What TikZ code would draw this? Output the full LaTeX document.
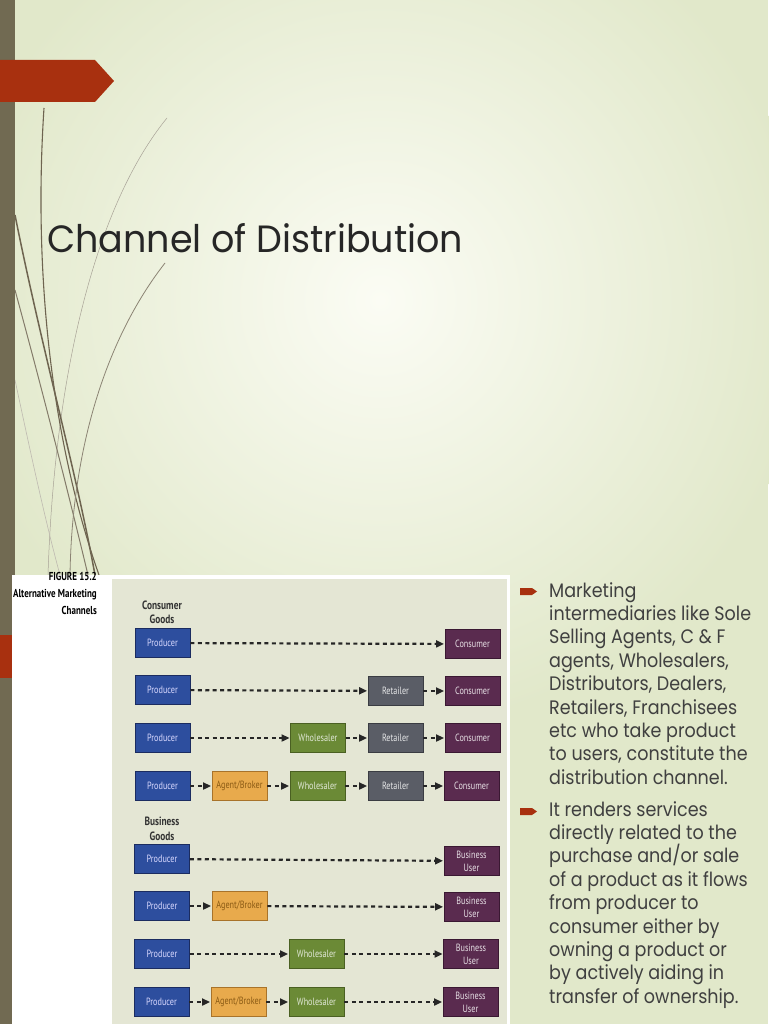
\documentclass[tikz,border=0pt]{standalone}
\usepackage{fontspec}
\setmainfont{Poppins}
\newfontfamily\titlefont{Poppins}[FakeStretch=0.96]
\newfontfamily\bodyfont{Poppins}[FakeStretch=0.9]
\newfontfamily\condfont{PT Sans}[FakeStretch=0.78]
\usetikzlibrary{arrows.meta,shapes.geometric}
\definecolor{bgbase}{HTML}{E1E8CA}
\definecolor{bglight}{HTML}{FBFCF4}
\definecolor{barbrown}{HTML}{716A52}
\definecolor{accentred}{HTML}{A8300F}
\definecolor{panelc}{HTML}{E4E6D4}
\definecolor{prodblue}{HTML}{2D4E9E}
\definecolor{prodborder}{HTML}{1B2C60}
\definecolor{consp}{HTML}{5A2B4F}
\definecolor{consborder}{HTML}{3A1832}
\definecolor{retg}{HTML}{5A5D66}
\definecolor{retborder}{HTML}{3A3C42}
\definecolor{wholeg}{HTML}{6B8A36}
\definecolor{wholeborder}{HTML}{4A6022}
\definecolor{agento}{HTML}{E8AA4C}
\definecolor{agentborder}{HTML}{A8732A}
\definecolor{agenttext}{HTML}{8A5A14}
\definecolor{textgray}{HTML}{404040}
\definecolor{stem}{HTML}{6E6450}
\tikzset{
  chbox/.style={line width=0.9pt, minimum width=55pt, minimum height=29pt, inner sep=0pt,
    font=\condfont\fontsize{10.5}{13}\selectfont, align=center},
  prod/.style={chbox, fill=prodblue, draw=prodborder, text=white!85!blue},
  cons/.style={chbox, fill=consp, draw=consborder, text=white!85!consp},
  ret/.style={chbox, fill=retg, draw=retborder, text=white!85!retg},
  whole/.style={chbox, fill=wholeg, draw=wholeborder, text=white!80!wholeg},
  agent/.style={chbox, fill=agento, draw=agentborder, text=agenttext},
  flow/.style={line width=2.2pt, dash pattern=on 4pt off 3.4pt, draw=black!85,
    -{Triangle[length=8pt,width=7pt]}, shorten >=0.5pt},
  header/.style={font=\condfont\bfseries\fontsize{12}{14.5}\selectfont, text=black!80, align=center},
  bullettip/.style={fill=accentred},
  para/.style={anchor=north west, inner sep=0pt, align=left, text=textgray,
    font=\bodyfont\fontsize{19.5}{23.4}\selectfont},
}
\begin{document}
\begin{tikzpicture}[x=1pt,y=-1pt]
\useasboundingbox (0,0) rectangle (768,1024);
% background
\fill[bgbase] (0,0) rectangle (768,1024);
\shade[inner color=bglight, outer color=bgbase] (380,300) circle (430);
% grass stems
\draw[stem!60, line width=0.5pt] (167,118) .. controls (100,200) and (55,360) .. (48,575);
\draw[stem!45, line width=0.6pt] (15,380) .. controls (30,450) and (45,520) .. (60,575);
\draw[stem, line width=1.1pt] (44,108) .. controls (34,260) and (48,430) .. (99,575);
\draw[stem, line width=1.5pt] (15,215) .. controls (42,350) and (76,470) .. (95,575);
\draw[stem!85, line width=1pt] (15,290) .. controls (45,400) and (70,500) .. (88,575);
\draw[stem!80, line width=0.8pt] (165,263) .. controls (105,340) and (72,450) .. (70,575);
% left bar
\fill[barbrown] (0,0) rectangle (15,1024);
\fill[accentred] (0,60) -- (95,60) -- (114,81) -- (95,102) -- (0,102) -- cycle;
% title
\node[anchor=base west, inner sep=0pt, text=black!85, font=\titlefont\fontsize{38}{40}\selectfont] (title) at (47,252) {Channel of Distribution};
% figure
\fill[white] (12,575) rectangle (510,1024);
\fill[accentred] (0,635) rectangle (12,678);
\fill[panelc] (112,579) rectangle (507,1024);
\node[anchor=north east, inner sep=0pt, align=right, font=\condfont\bfseries\fontsize{11.5}{17}\selectfont, text=black] (cap) at (97,572) {FIGURE 15.2\\Alternative Marketing\\Channels};
\node[header] (hcons) at (162,612.5) {Consumer\\Goods};
\node[header] (hbus) at (162,829) {Business\\Goods};
% row 1
\node[prod] (p1) at (162.5,643) {Producer};
\node[cons] (c1) at (472.5,644) {Consumer};
\draw[flow] (p1) -- (c1);
% row 2
\node[prod] (p2) at (162.5,690) {Producer};
\node[ret] (r2) at (395.5,691) {Retailer};
\node[cons] (c2) at (472.5,691) {Consumer};
\draw[flow] (p2) -- (r2);
\draw[flow] (r2) -- (c2);
% row 3
\node[prod] (p3) at (162.5,738) {Producer};
\node[whole] (w3) at (318,738) {Wholesaler};
\node[ret] (r3) at (395.5,738) {Retailer};
\node[cons] (c3) at (472.5,738) {Consumer};
\draw[flow] (p3) -- (w3);
\draw[flow] (w3) -- (r3);
\draw[flow] (r3) -- (c3);
% row 4
\node[prod] (p4) at (162.5,786) {Producer};
\node[agent] (a4) at (239.5,786) {Agent/Broker};
\node[whole] (w4) at (317.5,786) {Wholesaler};
\node[ret] (r4) at (395.5,786) {Retailer};
\node[cons] (c4) at (471.5,786) {Consumer};
\draw[flow] (p4) -- (a4);
\draw[flow] (a4) -- (w4);
\draw[flow] (w4) -- (r4);
\draw[flow] (r4) -- (c4);
% row 5
\node[prod] (p5) at (162,859) {Producer};
\node[cons] (b5) at (471.5,861) {Business\\User};
\draw[flow] (p5) -- (b5);
% row 6
\node[prod] (p6) at (162,906) {Producer};
\node[agent] (a6) at (239.5,906) {Agent/Broker};
\node[cons] (b6) at (471.5,907) {Business\\User};
\draw[flow] (p6) -- (a6);
\draw[flow] (a6) -- (b6);
% row 7
\node[prod] (p7) at (162,954) {Producer};
\node[whole] (w7) at (316.5,954) {Wholesaler};
\node[cons] (b7) at (471,954) {Business\\User};
\draw[flow] (p7) -- (w7);
\draw[flow] (w7) -- (b7);
% row 8
\node[prod] (p8) at (161.5,1002) {Producer};
\node[agent] (a8) at (238.5,1002) {Agent/Broker};
\node[whole] (w8) at (316.5,1002) {Wholesaler};
\node[cons] (b8) at (470.5,1002) {Business\\User};
\draw[flow] (p8) -- (a8);
\draw[flow] (a8) -- (w8);
\draw[flow] (w8) -- (b8);
% bullets
\fill[bullettip] (520,588) -- (532,588) -- (537,591.5) -- (532,595) -- (520,595) -- cycle;
\fill[bullettip] (520,808) -- (532,808) -- (537,811.5) -- (532,815) -- (520,815) -- cycle;
\node[para] (t1) at (549,582) {Marketing\\intermediaries like Sole\\Selling Agents, C \& F\\agents, Wholesalers,\\Distributors, Dealers,\\Retailers, Franchisees\\etc who take product\\to users, constitute the\\distribution channel.};
\node[para] (t2) at (549,801) {It renders services\\directly related to the\\purchase and/or sale\\of a product as it flows\\from producer to\\consumer either by\\owning a product or\\by actively aiding in\\transfer of ownership.};
\end{tikzpicture}
\end{document}
